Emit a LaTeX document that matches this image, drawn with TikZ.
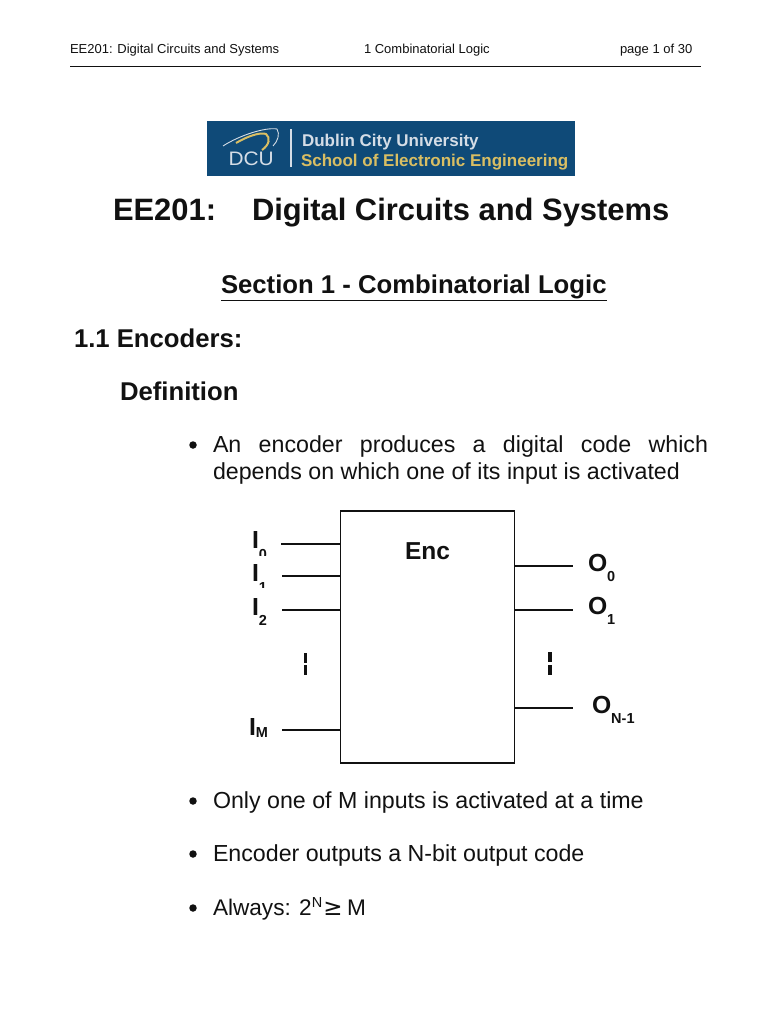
\documentclass[tikz,border=0pt]{standalone}
\usepackage{fontspec}
\setmainfont{Liberation Sans}
\newfontfamily\dejavu{DejaVu Sans}
\definecolor{logoblue}{HTML}{0F4A78}
\definecolor{logogold}{HTML}{D9BE63}
\definecolor{logolight}{HTML}{D5DDE6}
\definecolor{ink}{HTML}{111111}
\tikzset{
  x=1pt,y=-1pt,
  txt/.style={anchor=base west,inner sep=0pt,outer sep=0pt,text=ink},
  head/.style={txt,font=\fontsize{13}{14}\selectfont},
  body/.style={txt,font=\fontsize{23.2}{26}\selectfont},
  bhead/.style={txt,font=\bfseries\fontsize{25.7}{28}\selectfont},
  lab/.style={txt,font=\bfseries\fontsize{24.7}{28}\selectfont},
  wire/.style={draw=ink,line width=1.5pt},
  bul/.style={circle,fill=ink,inner sep=0pt,minimum size=7.5pt},
  encbox/.style={draw=ink,line width=1.6pt,minimum width=174pt,minimum height=252pt,inner sep=0pt,outer sep=0pt,anchor=north west},
  ticks/.style={fill=ink,inner sep=0pt,minimum width=3.2pt,minimum height=10pt}
}
\newcommand{\sublab}[1]{\raisebox{-10.5pt}{\fontsize{14.5}{16}\selectfont #1}}
\begin{document}
\begin{tikzpicture}
\useasboundingbox (0,0) rectangle (768,1024);
\fill[white] (0,0) rectangle (768,1024);
% header
\node[head] (h1) at (70,54) {EE201: Digital Circuits and Systems};
\node[head] (h2) at (364,54) {1 Combinatorial Logic};
\node[head] (h3) at (620,54) {page 1 of 30};
\coordinate (rl) at (70,66); \coordinate (rr) at (701,66);
\draw[draw=ink,line width=0.8pt] (rl) -- (rr);
% logo
\node[fill=logoblue,minimum width=368pt,minimum height=55pt,inner sep=0pt,anchor=north west] (logo) at (207,121) {};
\draw[logolight,line width=0.9pt] (223,146) .. controls (240,135) and (266,127) .. (277,129) .. controls (280,134) and (278,141) .. (273,146);
\draw[logogold,line width=2pt] (236,143) .. controls (248,136) and (260,132) .. (266,134) .. controls (271,138) and (269,145) .. (262,150);
\node[txt,xscale=1.07,transform shape,font=\fontsize{19.5}{20}\selectfont,text=logolight] (dcu) at (228.5,166) {DCU};
\fill[logolight] (290.3,129) rectangle (291.7,167);
\node[txt,font=\bfseries\fontsize{17}{18}\selectfont,text=logolight] (l1) at (302,147) {Dublin City University};
\node[txt,font=\bfseries\fontsize{17}{18}\selectfont,text=logogold] (l2) at (301,167) {School of Electronic Engineering};
% titles
\node[txt,font=\bfseries\fontsize{30.9}{34}\selectfont] (t1) at (113,221) {EE201:};
\node[txt,font=\bfseries\fontsize{30.9}{34}\selectfont] (t2) at (252,221) {Digital Circuits and Systems};
\node[bhead] (sec) at (221,293) {\underline{Section 1 - Combinatorial Logic}};
\node[bhead] (enc1) at (74,347) {1.1 Encoders:};
\node[bhead] (def) at (120,400) {Definition};
% bullets
\node[bul] (b1) at (193,445) {};
\node[body] (p1) at (213,452) {\makebox[495pt][s]{An encoder produces a digital code which}};
\node[body] (p2) at (213,479) {depends on which one of its input is activated};
\node[bul] (b2) at (193,801) {};
\node[body] (p3) at (213,808) {Only one of M inputs is activated at a time};
\node[bul] (b3) at (193,854) {};
\node[body] (p4) at (213,861) {Encoder outputs a N-bit output code};
\node[bul] (b4) at (193,908) {};
\node[body,font=\fontsize{22.6}{26}\selectfont] (p5) at (213,915) {Always: 2\raisebox{8pt}{\fontsize{14.5}{16}\selectfont N}\hspace{1pt}{\dejavu\fontsize{23}{28}\selectfont ≥}\hspace{4.5pt}M};
% encoder
\node[encbox] (enc) at (340.5,510.8) {};
\node[txt,font=\bfseries\fontsize{24.5}{28}\selectfont] (enct) at (405,559) {Enc};
% inputs
\coordinate (i0) at (281,544); \coordinate (i1) at (282,576); \coordinate (i2) at (282,610); \coordinate (iM) at (282,730);
\draw[wire] (i0) -- (enc.west |- i0);
\draw[wire] (i1) -- (enc.west |- i1);
\draw[wire] (i2) -- (enc.west |- i2);
\draw[wire] (iM) -- (enc.west |- iM);
% outputs
\coordinate (o0) at (573,566); \coordinate (o1) at (573,610); \coordinate (oN) at (573,708);
\draw[wire] (enc.east |- o0) -- (o0);
\draw[wire] (enc.east |- o1) -- (o1);
\draw[wire] (enc.east |- oN) -- (oN);
% labels
\begin{scope}
\clip (240,525) rectangle (290,555);
\node[lab] (li0) at (252,548.5) {I\sublab{0}};
\end{scope}
\begin{scope}
\clip (240,558) rectangle (290,587);
\node[lab] (li1) at (252,581.5) {I\sublab{1}};
\end{scope}
\node[lab] (li2) at (252,615) {I\sublab{2}};
\node[lab] (liM) at (249,735) {I\raisebox{-2.5pt}{\fontsize{14.5}{16}\selectfont M}};
\node[lab] (lo0) at (588,571) {O\sublab{0}};
\node[lab] (lo1) at (588,614) {O\sublab{1}};
\node[lab] (loN) at (592,713) {O\raisebox{-10.5pt}{\fontsize{14.5}{16}\selectfont N-1}};
% dots
\node[ticks] (d1) at (305.5,657.5) {};
\node[ticks] (d2) at (305.5,670) {};
\node[ticks,minimum width=4.4pt] (d3) at (550,657) {};
\node[ticks,minimum width=4.4pt] (d4) at (550,669.5) {};
\end{tikzpicture}
\end{document}
